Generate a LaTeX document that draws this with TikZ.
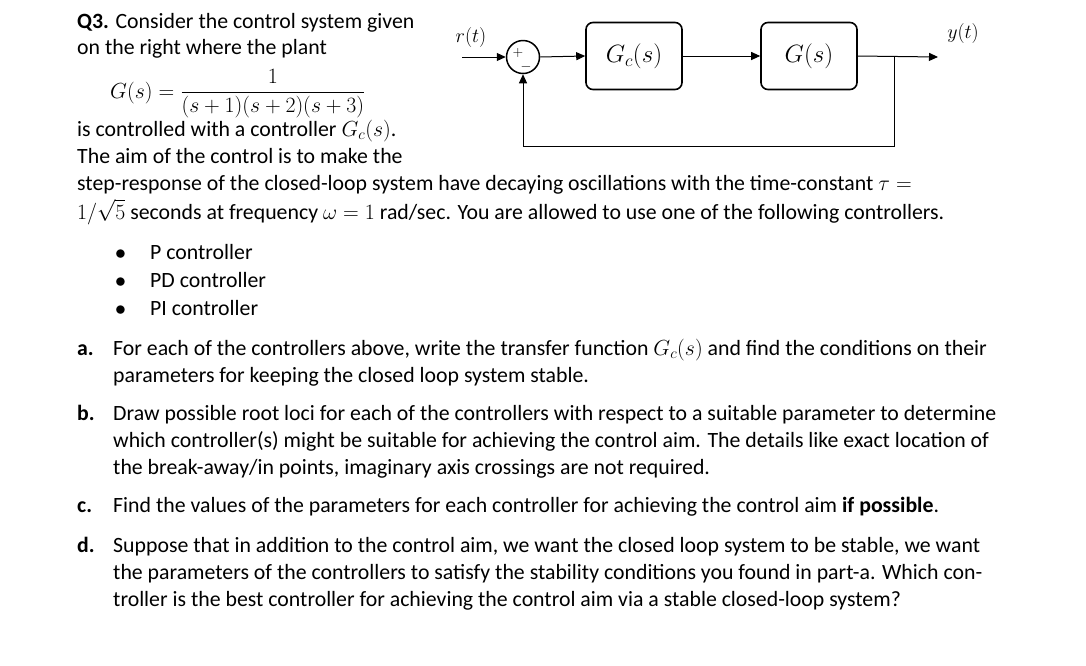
\RequirePackage{fix-cm}
\documentclass[tikz,border=0pt]{standalone}
\usepackage{amsmath}
\usepackage{fontspec}
\setmainfont{Carlito}
\usetikzlibrary{arrows.meta}
\begin{document}
\begin{tikzpicture}[x=1pt,y=-1pt,
  txt/.style={anchor=base west,inner sep=0pt,font=\fontsize{21.8}{25}\selectfont},
  blk/.style={draw,line width=1.6pt,rounded corners=7pt,minimum width=96pt,minimum height=67pt,font=\fontsize{25}{28}\selectfont},
  sig/.style={line width=1pt,-{Triangle[length=9pt,width=8pt]}},
  wire/.style={line width=1pt}]
\useasboundingbox (0,0) rectangle (1086,665);
% block diagram
\node[draw,circle,line width=1.5pt,minimum size=33pt,inner sep=0pt] (sum) at (523,57) {};
\node[font=\fontsize{14}{14}\selectfont,inner sep=0pt] (plus) at (518,53) {$+$};
\node[font=\fontsize{14}{14}\selectfont,inner sep=0pt] (minus) at (526,67) {$-$};
\node[blk] (gc) at (634,56) {$G_c(s)$};
\node[blk] (g) at (809,56) {$G(s)$};
\coordinate (rin) at (462,57);
\coordinate (out) at (938,57);
\coordinate (br) at (894,57);
\coordinate (fb1) at (894,146);
\coordinate (fb2) at (523,146);
\node[font=\fontsize{20}{22}\selectfont] (rl) at (471,37) {$r(t)$};
\node[font=\fontsize{20}{22}\selectfont] (yl) at (963,33) {$y(t)$};
\draw[sig] (rin) -- (sum.west);
\draw[sig] (sum.east) -- (gc.west);
\draw[sig] (gc.east) -- (g.west);
\draw[sig] (g.east) -- (out);
\draw[wire] (br) -- (fb1) -- (fb2);
\draw[sig] (fb2) -- (sum.south);
% text
\node[txt] (l1) at (77,28) {\textbf{Q3.} Consider the control system given};
\node[txt] (l2) at (77,54) {on the right where the plant};
\node[txt] (l3) at (110,98) {$G(s)=\dfrac{1}{(s+1)(s+2)(s+3)}$};
\node[txt] (l4) at (77,136) {is controlled with a controller $G_c(s)$.};
\node[txt] (l5) at (77,163) {The aim of the control is to make the};
\node[txt] (l6) at (77,190) {step-response of the closed-loop system have decaying oscillations with the time-constant $\tau=$};
\node[txt] (l7) at (77,219) {$1/\sqrt{5}$ seconds at frequency $\omega=1$ rad/sec. You are allowed to use one of the following controllers.};
\foreach \y/\t [count=\i] in {259/P controller,287/PD controller,315/PI controller}{
  \node[txt] (b\i) at (115,\y) {$\bullet$};
  \node[txt] (bt\i) at (150,\y) {\t};
}
\node[txt] (a) at (77,355) {\textbf{a.}};
\node[txt] (a1) at (113,355) {For each of the controllers above, write the transfer function $G_c(s)$ and find the conditions on their};
\node[txt] (a2) at (113,382) {parameters for keeping the closed loop system stable.};
\node[txt] (b) at (77,420) {\textbf{b.}};
\node[txt] (bb1) at (113,420) {Draw possible root loci for each of the controllers with respect to a suitable parameter to determine};
\node[txt] (bb2) at (113,447) {which controller(s) might be suitable for achieving the control aim. The details like exact location of};
\node[txt] (bb3) at (113,474) {the break-away/in points, imaginary axis crossings are not required.};
\node[txt] (c) at (77,512) {\textbf{c.}};
\node[txt] (c1) at (113,512) {Find the values of the parameters for each controller for achieving the control aim \textbf{if possible}.};
\node[txt] (d) at (77,552) {\textbf{d.}};
\node[txt] (d1) at (113,552) {Suppose that in addition to the control aim, we want the closed loop system to be stable, we want};
\node[txt] (d2) at (113,579) {the parameters of the controllers to satisfy the stability conditions you found in part-a. Which con-};
\node[txt] (d3) at (113,606) {troller is the best controller for achieving the control aim via a stable closed-loop system?};
\end{tikzpicture}
\end{document}
